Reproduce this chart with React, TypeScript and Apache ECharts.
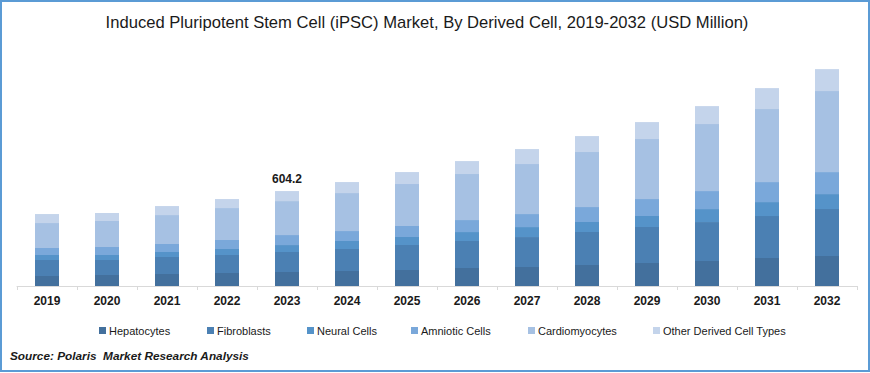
import React, { useEffect, useRef } from "react";
import * as echarts from "echarts";

const years = ["2019", "2020", "2021", "2022", "2023", "2024", "2025", "2026", "2027", "2028", "2029", "2030", "2031", "2032"];
const seriesNames = ["Hepatocytes", "Fibroblasts", "Neural Cells", "Amniotic Cells", "Cardiomyocytes", "Other Derived Cell Types"];
const hepatocytes = [63.6, 70.0, 76.3, 82.7, 89.0, 95.4, 101.8, 114.5, 120.8, 133.6, 146.3, 159.0, 178.1, 190.8];
const fibroblasts = [101.8, 95.4, 108.1, 114.5, 127.2, 139.9, 159.0, 171.7, 190.8, 209.9, 229.0, 248.0, 267.1, 298.9];
const neuralCells = [31.8, 31.8, 31.8, 38.2, 44.5, 50.9, 50.9, 57.2, 63.6, 63.6, 70.0, 82.7, 89.0, 95.4];
const amnioticCells = [44.5, 50.9, 50.9, 57.2, 63.6, 63.6, 70.0, 76.3, 82.7, 95.4, 108.1, 114.5, 127.2, 139.9];
const cardiomyocytes = [159.0, 165.4, 184.4, 203.5, 216.2, 241.7, 267.1, 292.6, 318.0, 349.8, 381.6, 426.1, 464.3, 515.2];
const otherTypes = [57.2, 50.9, 57.2, 57.2, 63.7, 70.0, 76.3, 82.7, 95.4, 101.8, 108.1, 114.5, 133.6, 139.9];
const labelledYear = "2023";
const labelText = "604.2";

const colors = ["#43709d", "#4b80b3", "#5593c9", "#7aa8da", "#a6c1e3", "#c4d4eb"];
const legendLefts = [99, 207, 307, 411, 528, 653];
const FONT = "'Liberation Sans', Arial, sans-serif";

export default function App() {
  const ref = useRef<HTMLDivElement>(null);
  useEffect(() => {
    if (!ref.current) return;
    const chart = echarts.init(ref.current, undefined, { renderer: "svg" });
    const allData = [hepatocytes, fibroblasts, neuralCells, amnioticCells, cardiomyocytes, otherTypes];
    const series = allData.map((d, i) => ({
      name: seriesNames[i],
      type: "bar",
      stack: "total",
      barWidth: "40%",
      itemStyle: { color: colors[i] },
      data: d.map((v, j) => {
        if (i === allData.length - 1 && years[j] === labelledYear) {
          return {
            value: v,
            label: {
              show: true,
              position: "top",
              distance: 6,
              formatter: labelText,
              fontFamily: FONT,
              fontSize: 12,
              fontWeight: "bold",
              color: "#1a1a1a",
            },
          };
        }
        return v;
      }),
    }));
    chart.setOption({
      animation: false,
      backgroundColor: "#ffffff",
      title: {
        text: "Induced Pluripotent Stem Cell (iPSC) Market, By Derived Cell, 2019-2032 (USD Million)",
        left: 422,
        textAlign: "center",
        top: 9,
        textStyle: { fontFamily: FONT, fontSize: 16.6, fontWeight: "normal", color: "#1a1a1a" },
      },
      legend: seriesNames.map((n, i) => ({
        data: [n],
        left: legendLefts[i],
        top: 325,
        itemWidth: 7,
        itemHeight: 7,
        itemGap: 3,
        icon: "rect",
        padding: 0,
        textStyle: { fontFamily: FONT, fontSize: 11, color: "#1a1a1a", padding: [0, 0, 0, -2] },
      })),
      grid: { left: 17, right: 13, top: 66, bottom: 87, containLabel: false },
      xAxis: {
        type: "category",
        data: years,
        axisLine: { lineStyle: { color: "#d9d9d9", width: 1 } },
        axisTick: { show: true, length: 4, lineStyle: { color: "#d9d9d9" } },
        axisLabel: { fontFamily: FONT, fontSize: 12, fontWeight: "bold", color: "#1a1a1a", margin: 9 },
      },
      yAxis: {
        type: "value",
        min: 0,
        max: 1400,
        show: false,
        splitLine: { show: false },
      },
      graphic: [
        {
          type: "rect",
          shape: { x: 1, y: 1, width: 868, height: 370 },
          style: { fill: "none", stroke: "#5b9bd5", lineWidth: 2 },
          silent: true,
        },
        {
          type: "text",
          left: 10,
          top: 350,
          style: {
            text: "Source: Polaris  Market Research Analysis",
            fontFamily: FONT,
            fontSize: 11.8,
            fontStyle: "italic",
            fontWeight: "bold",
            fill: "#1a1a1a",
          },
        },
      ],
      series,
    });
    return () => chart.dispose();
  }, []);
  return (
    <div
      ref={ref}
      style={{ position: "absolute", left: 0, top: 0, width: 870, height: 373, background: "#fff" }}
    />
  );
}
